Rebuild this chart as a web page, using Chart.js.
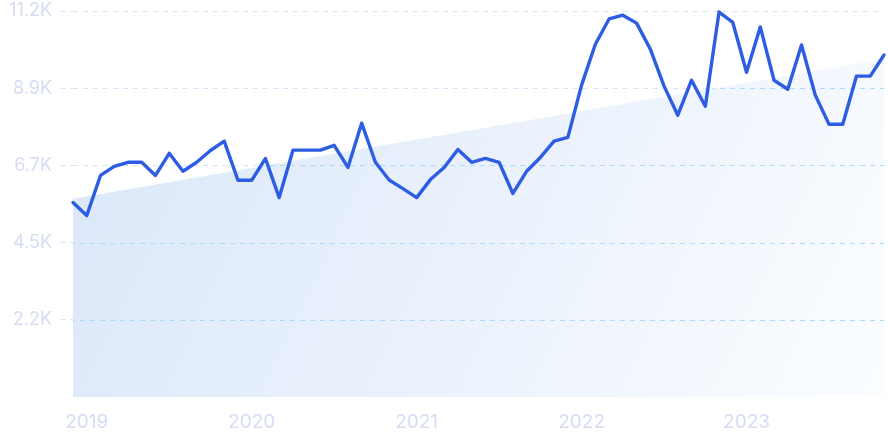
<!DOCTYPE html>
<html>
<head>
  <title>Trend chart</title>
  <script src="https://cdn.jsdelivr.net/npm/chart.js"></script>
  <style>
    html, body { margin: 0; padding: 0; background: #fff; }
    #wrap { width: 888px; height: 443px; }
  </style>
</head>
<body>
  <div id="wrap"><canvas id="trendChart"></canvas></div>

  <script>
    // monthly values, Jan 2019 .. Dec 2023
    const months = [];
    const years = ['2019', '2020', '2021', '2022', '2023'];
    years.forEach(y => {
      for (let m = 1; m <= 12; m++) months.push(y + '-' + String(m).padStart(2, '0'));
    });

    const values = [
      5620, 5240, 6400, 6660, 6780, 6780, 6400, 7040, 6520, 6780, 7120, 7390,
      6260, 6260, 6890, 5760, 7130, 7130, 7130, 7270, 6630, 7910, 6780, 6270,
      6020, 5760, 6280, 6630, 7150, 6780, 6890, 6780, 5880, 6520, 6920, 7390,
      7500, 9010, 10190, 10920, 11030, 10800, 10050, 8980, 8140, 9150, 8400, 11120,
      10820, 9380, 10690, 9150, 8890, 10170, 8720, 7880, 7880, 9270, 9270, 9880
    ];

    // trend band: only the two ends, straight line between
    const trendStart = 5730;
    const trendEnd = 9760;
    const trend = months.map((m, i) => i === 0 ? trendStart : (i === months.length - 1 ? trendEnd : null));

    const yTicks = [2230, 4460, 6690, 8920, 11150];
    const yLabels = ['2.2K', '4.5K', '6.7K', '8.9K', '11.2K'];

    const lavender = '#dde3f7';
    const cyan = '#a9dcfb';

    // cyan dashes where the grid runs over the trend band
    const bandGrid = {
      id: 'bandGrid',
      afterDatasetDraw(chart, args) {
        if (args.index !== 0) return;
        const pts = args.meta.data;
        const a = pts[0], b = pts[pts.length - 1];
        const area = chart.chartArea;
        const ctx = chart.ctx;
        const ys = chart.scales.y;
        ctx.save();
        ctx.beginPath();
        ctx.moveTo(a.x, a.y);
        ctx.lineTo(b.x, b.y);
        ctx.lineTo(b.x, area.bottom);
        ctx.lineTo(a.x, area.bottom);
        ctx.closePath();
        ctx.clip();
        ctx.strokeStyle = cyan;
        ctx.lineWidth = 1;
        ctx.setLineDash([5, 5]);
        yTicks.forEach(v => {
          const y = Math.round(ys.getPixelForValue(v)) + 0.5;
          ctx.beginPath();
          ctx.moveTo(area.left - 13, y);
          ctx.lineTo(area.right, y);
          ctx.stroke();
        });
        ctx.restore();
      }
    };

    const ctx = document.getElementById('trendChart').getContext('2d');

    new Chart(ctx, {
      type: 'line',
      data: {
        labels: months,
        datasets: [{
          data: trend,
          spanGaps: true,
          borderWidth: 0,
          pointRadius: 0,
          fill: 'origin',
          order: 2,
          backgroundColor: (c) => {
            const area = c.chart.chartArea;
            if (!area) return '#e4eefb';
            const g = c.chart.ctx.createLinearGradient(area.left, area.top, area.right, area.bottom);
            g.addColorStop(0, '#d9e7f9');
            g.addColorStop(0.5, '#eaf1fc');
            g.addColorStop(1, '#fbfdff');
            return g;
          }
        }, {
          data: values,
          borderColor: '#2d5de3',
          borderWidth: 3.4,
          borderJoinStyle: 'round',
          borderCapStyle: 'round',
          pointRadius: 0,
          tension: 0,
          fill: false,
          clip: false,
          order: 1
        }]
      },
      options: {
        responsive: true,
        maintainAspectRatio: false,
        animation: false,
        layout: { padding: { top: 11, right: 4, left: 0, bottom: 0 } },
        plugins: {
          legend: { display: false },
          tooltip: { enabled: false }
        },
        scales: {
          x: {
            grid: { display: false, drawTicks: false },
            border: { display: false },
            ticks: {
              autoSkip: false,
              maxRotation: 0,
              padding: 14,
              color: '#d6dcf3',
              font: { family: 'Inter', size: 19 },
              callback: (v, i) => (i % 12 === 1 ? months[i].slice(0, 4) : '')
            },
            afterFit: (s) => { s.height = 46; s.paddingLeft = 0; s.paddingRight = 0; }
          },
          y: {
            min: 0,
            max: 11150,
            afterBuildTicks: (s) => { s.ticks = yTicks.map(v => ({ value: v })); },
            grid: {
              color: lavender,
              tickColor: lavender,
              tickLength: 13,
              borderDash: [5, 5],
              tickBorderDash: [5, 5]
            },
            border: { display: false, dash: [5, 5] },
            ticks: {
              padding: 8,
              color: '#d6dcf3',
              font: { family: 'Inter', size: 18 },
              callback: (v) => yLabels[yTicks.indexOf(v)]
            },
            afterFit: (s) => { s.width = 73; s.paddingTop = 0; s.paddingBottom = 0; }
          }
        }
      },
      plugins: [bandGrid]
    });
  </script>
</body>
</html>
